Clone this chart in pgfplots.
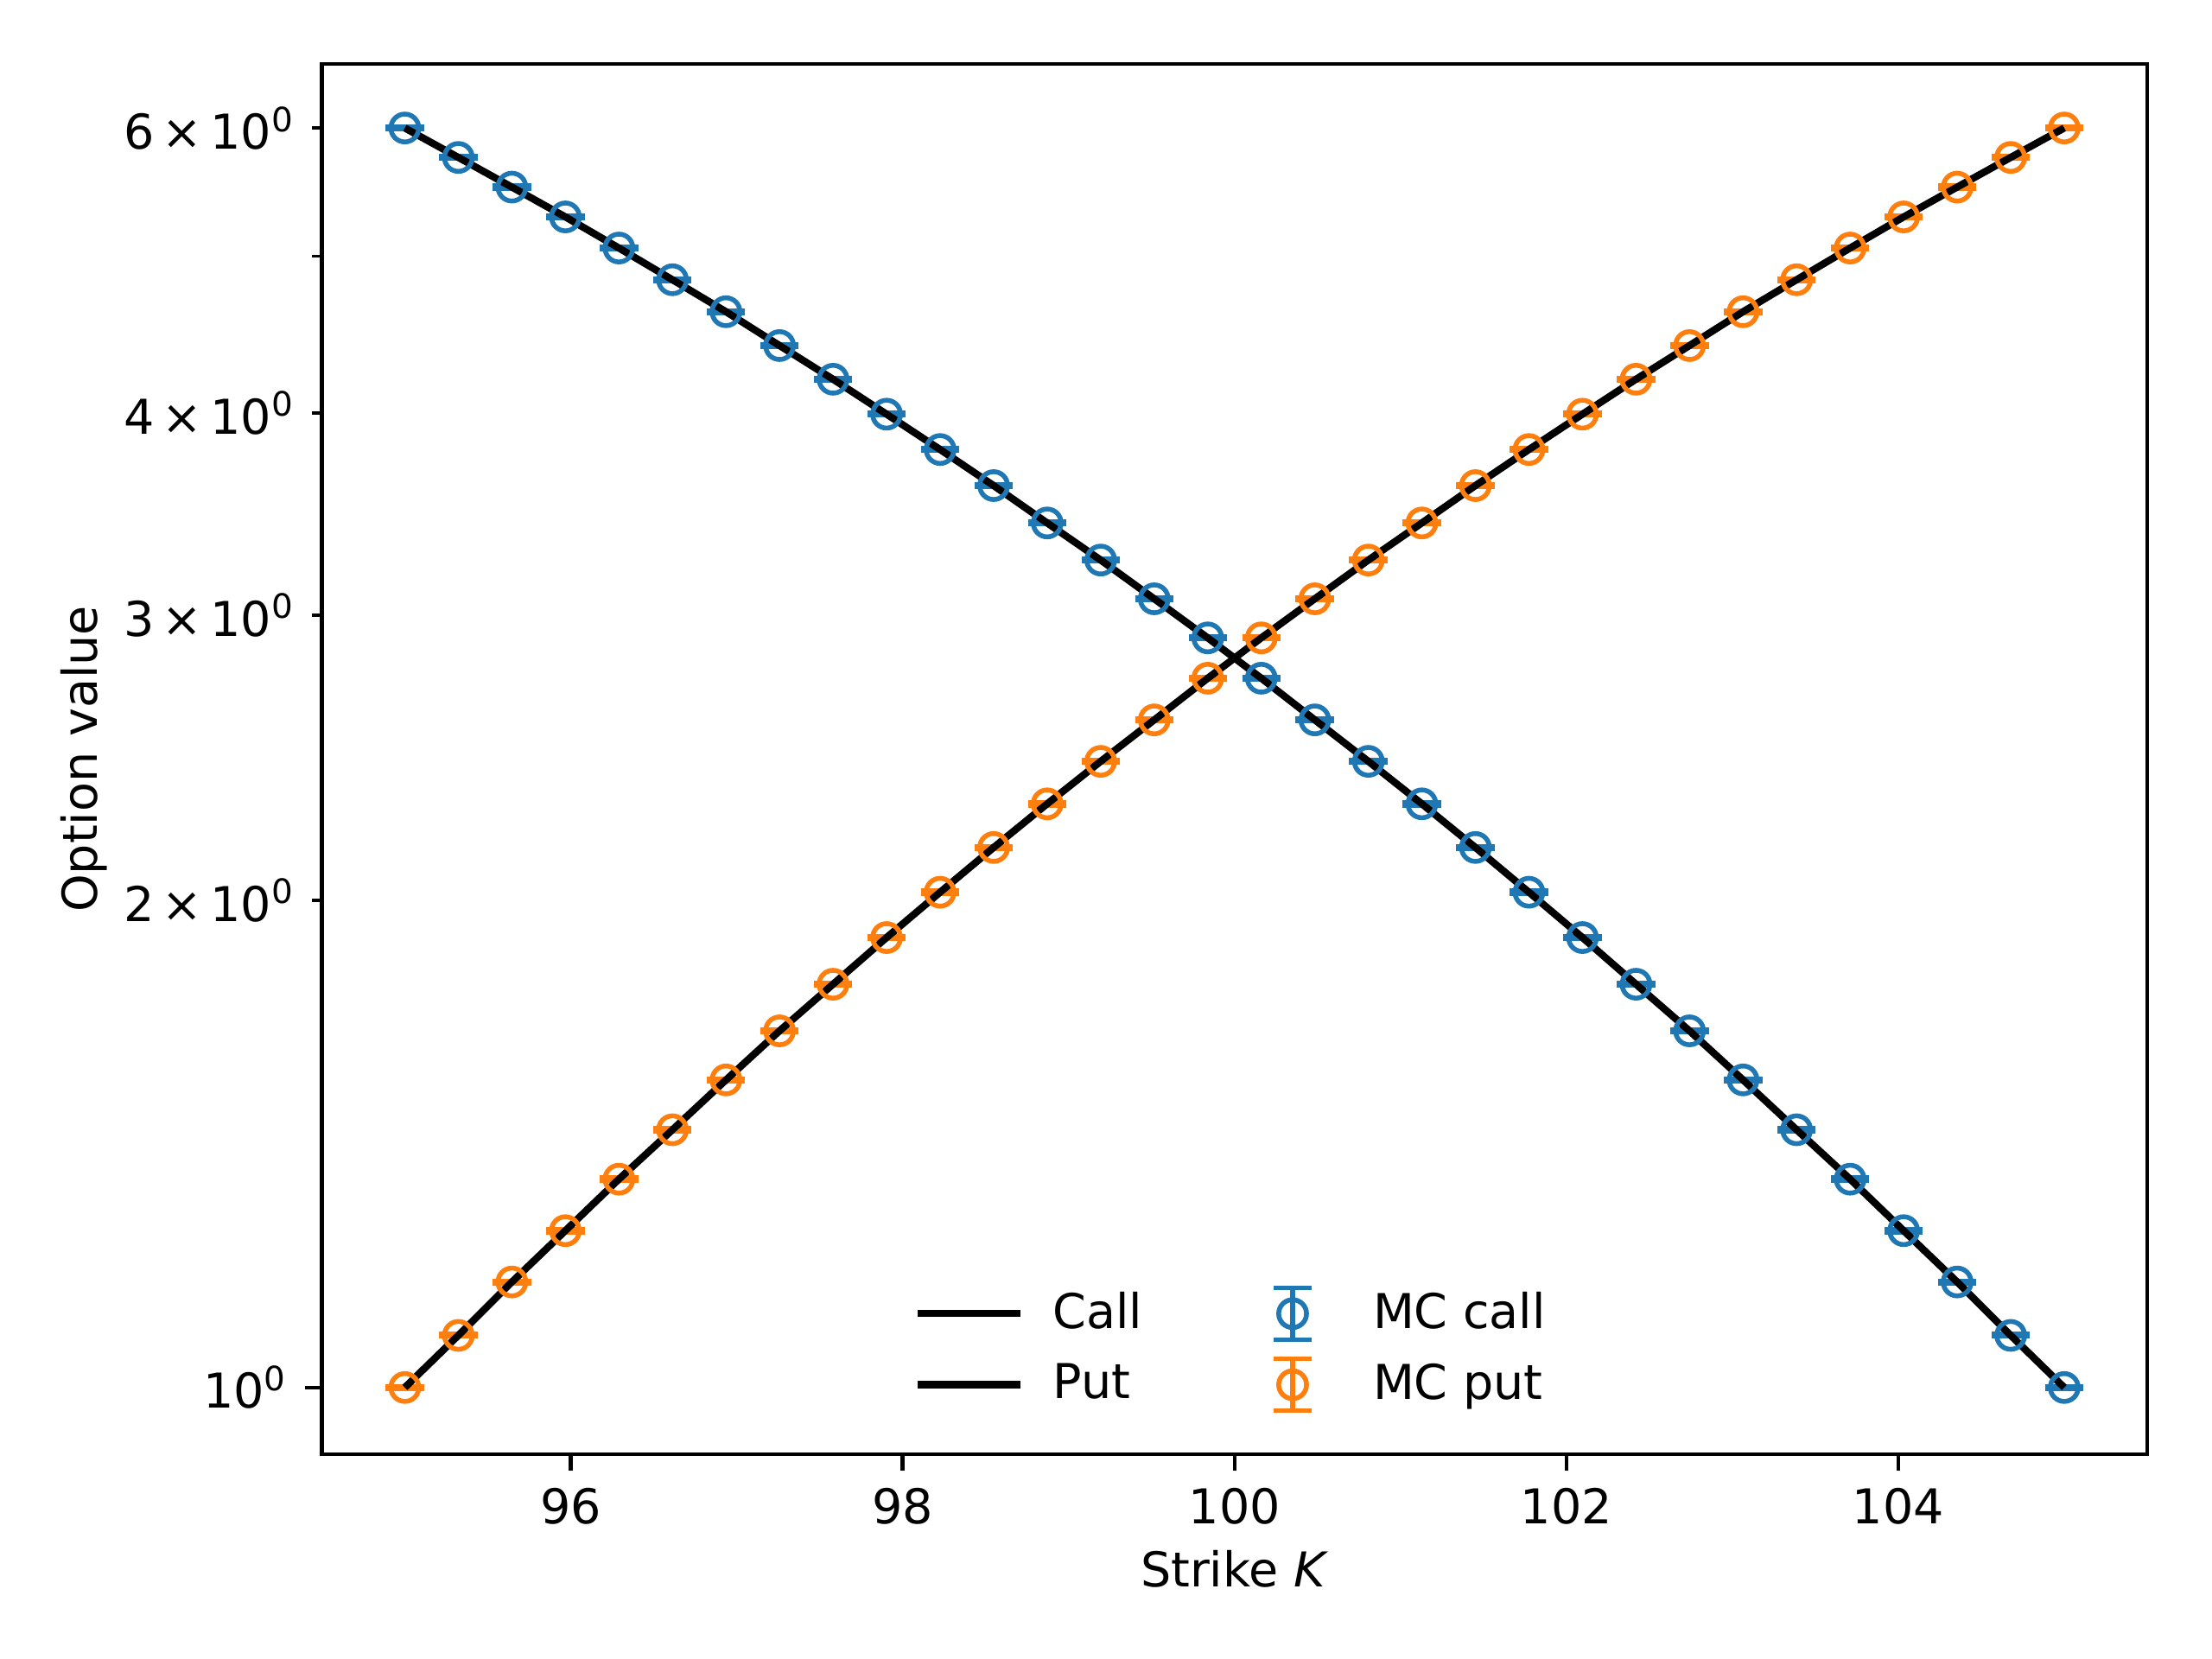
\documentclass[border=0pt]{standalone}
\usepackage{fontspec}
\setmainfont{DejaVu Sans}
\usepackage{pgfplots}
\pgfplotsset{compat=1.18}
\usepackage{pgfplotstable}
\usetikzlibrary{calc}

\definecolor{mcblue}{HTML}{1F77B4}
\definecolor{mcorange}{HTML}{FF7F0E}

% strike, exact call, MC std err, exact put, MC std err
\pgfplotstableread{
K        call   cerr   put    perr
95.0000  6.000  0.012  1.000  0.002
95.3226  5.754  0.012  1.077  0.002
95.6452  5.516  0.011  1.162  0.002
95.9677  5.287  0.011  1.250  0.003
96.2903  5.058  0.010  1.345  0.003
96.6129  4.835  0.010  1.443  0.003
96.9355  4.620  0.009  1.549  0.003
97.2581  4.403  0.009  1.661  0.003
97.5806  4.197  0.008  1.775  0.004
97.9032  3.994  0.008  1.897  0.004
98.2258  3.798  0.008  2.023  0.004
98.5484  3.608  0.007  2.156  0.004
98.8710  3.421  0.007  2.294  0.005
99.1935  3.245  0.006  2.437  0.005
99.5161  3.071  0.006  2.585  0.005
99.8387  2.905  0.006  2.743  0.005
100.1613 2.743  0.005  2.905  0.006
100.4839 2.585  0.005  3.071  0.006
100.8065 2.437  0.005  3.245  0.006
101.1290 2.294  0.005  3.421  0.007
101.4516 2.156  0.004  3.608  0.007
101.7742 2.023  0.004  3.798  0.008
102.0968 1.897  0.004  3.994  0.008
102.4194 1.775  0.004  4.197  0.008
102.7419 1.661  0.003  4.403  0.009
103.0645 1.549  0.003  4.620  0.009
103.3871 1.443  0.003  4.835  0.010
103.7097 1.345  0.003  5.058  0.010
104.0323 1.250  0.003  5.287  0.011
104.3548 1.162  0.002  5.516  0.011
104.6774 1.077  0.002  5.754  0.012
105.0000 1.000  0.002  6.000  0.012
}\optdata

\pgfplotsset{
  mcstyle/.style={only marks, mark=o, #1,
    mark options={line width=1pt, mark size=2.9pt, solid},
    error bars/.cd, y dir=both, y explicit,
    error bar style={line width=1.2pt, #1},
    error mark options={line width=0.9pt, mark size=4pt, rotate=90, #1}},
  mcleg/.style={legend image code/.code={
    \path[draw=none] (0pt,0pt) -- (21.5pt,0pt);
    \draw[#1, line width=1.2pt] (10.75pt,-5.4pt) -- (10.75pt,5.4pt);
    \draw[#1, line width=0.9pt] (6.8pt,-5.4pt) -- (14.7pt,-5.4pt) (6.8pt,5.4pt) -- (14.7pt,5.4pt);
    \draw[#1, line width=1pt] (10.75pt,0pt) circle (2.9pt);}},
  lineleg/.style={legend image code/.code={
    \draw[black, line width=1.5pt] (0pt,0pt) -- (21.5pt,0pt);}},
}

\begin{document}
\begin{tikzpicture}
\begin{axis}[
  scale only axis, width=380.25pt, height=289.6pt,
  ymode=log,
  xmin=94.5, xmax=105.5, ymin=0.9096, ymax=6.573,
  xtick={96,98,100,102,104},
  ytick={1}, yticklabels={10\textsuperscript{0}},
  extra y ticks={2,3,4,6},
  extra y tick labels={2\,×\,10\textsuperscript{0},3\,×\,10\textsuperscript{0},4\,×\,10\textsuperscript{0},6\,×\,10\textsuperscript{0}},
  extra y tick style={major tick length=2pt, every major tick/.append style={line width=0.6pt}},
  minor ytick={5},
  tick pos=left, tick align=outside,
  major tick length=3.5pt, minor tick length=2pt,
  every major tick/.append style={line width=0.8pt, black},
  every minor tick/.append style={line width=0.6pt, black},
  axis line style={line width=0.8pt},
  /pgf/number format/assume math mode=true,
  tick label style={font=\fontsize{10}{12}\selectfont},
  label style={font=\fontsize{10}{12}\selectfont},
  xlabel={Strike \textit{K}},
  ylabel={Option value},
  xlabel style={yshift=1.5pt},
  ylabel style={yshift=-7pt},
  legend columns=2,
  legend cell align=left,
  legend style={draw=none, fill=none, at={(0.5,0.02)}, anchor=south,
    font=\fontsize{10}{12}\selectfont, row sep=1.8pt,
    /tikz/every odd column/.append style={column sep=4pt},
    /tikz/every even column/.append style={column sep=18.5pt}},
]
\coordinate (sw) at (rel axis cs:0,0);
\coordinate (ne) at (rel axis cs:1,1);

\addplot[forget plot, mcstyle=mcblue] table[x=K, y=call, y error=cerr]{\optdata};
\addplot[forget plot, mcstyle=mcorange] table[x=K, y=put, y error=perr]{\optdata};
\addplot[forget plot, black, line width=1.5pt, no marks] table[x=K, y=call]{\optdata};
\addplot[forget plot, black, line width=1.5pt, no marks] table[x=K, y=put]{\optdata};

\addlegendimage{lineleg}
\addlegendentry{Call}
\addlegendimage{mcleg=mcblue}
\addlegendentry{MC call}
\addlegendimage{lineleg}
\addlegendentry{Put}
\addlegendimage{mcleg=mcorange}
\addlegendentry{MC put}
\end{axis}
\pgfresetboundingbox
\path ($(sw)+(-67.05pt,-42.66pt)$) rectangle ($(ne)+(13.5pt,13.32pt)$);
\end{tikzpicture}
\end{document}
